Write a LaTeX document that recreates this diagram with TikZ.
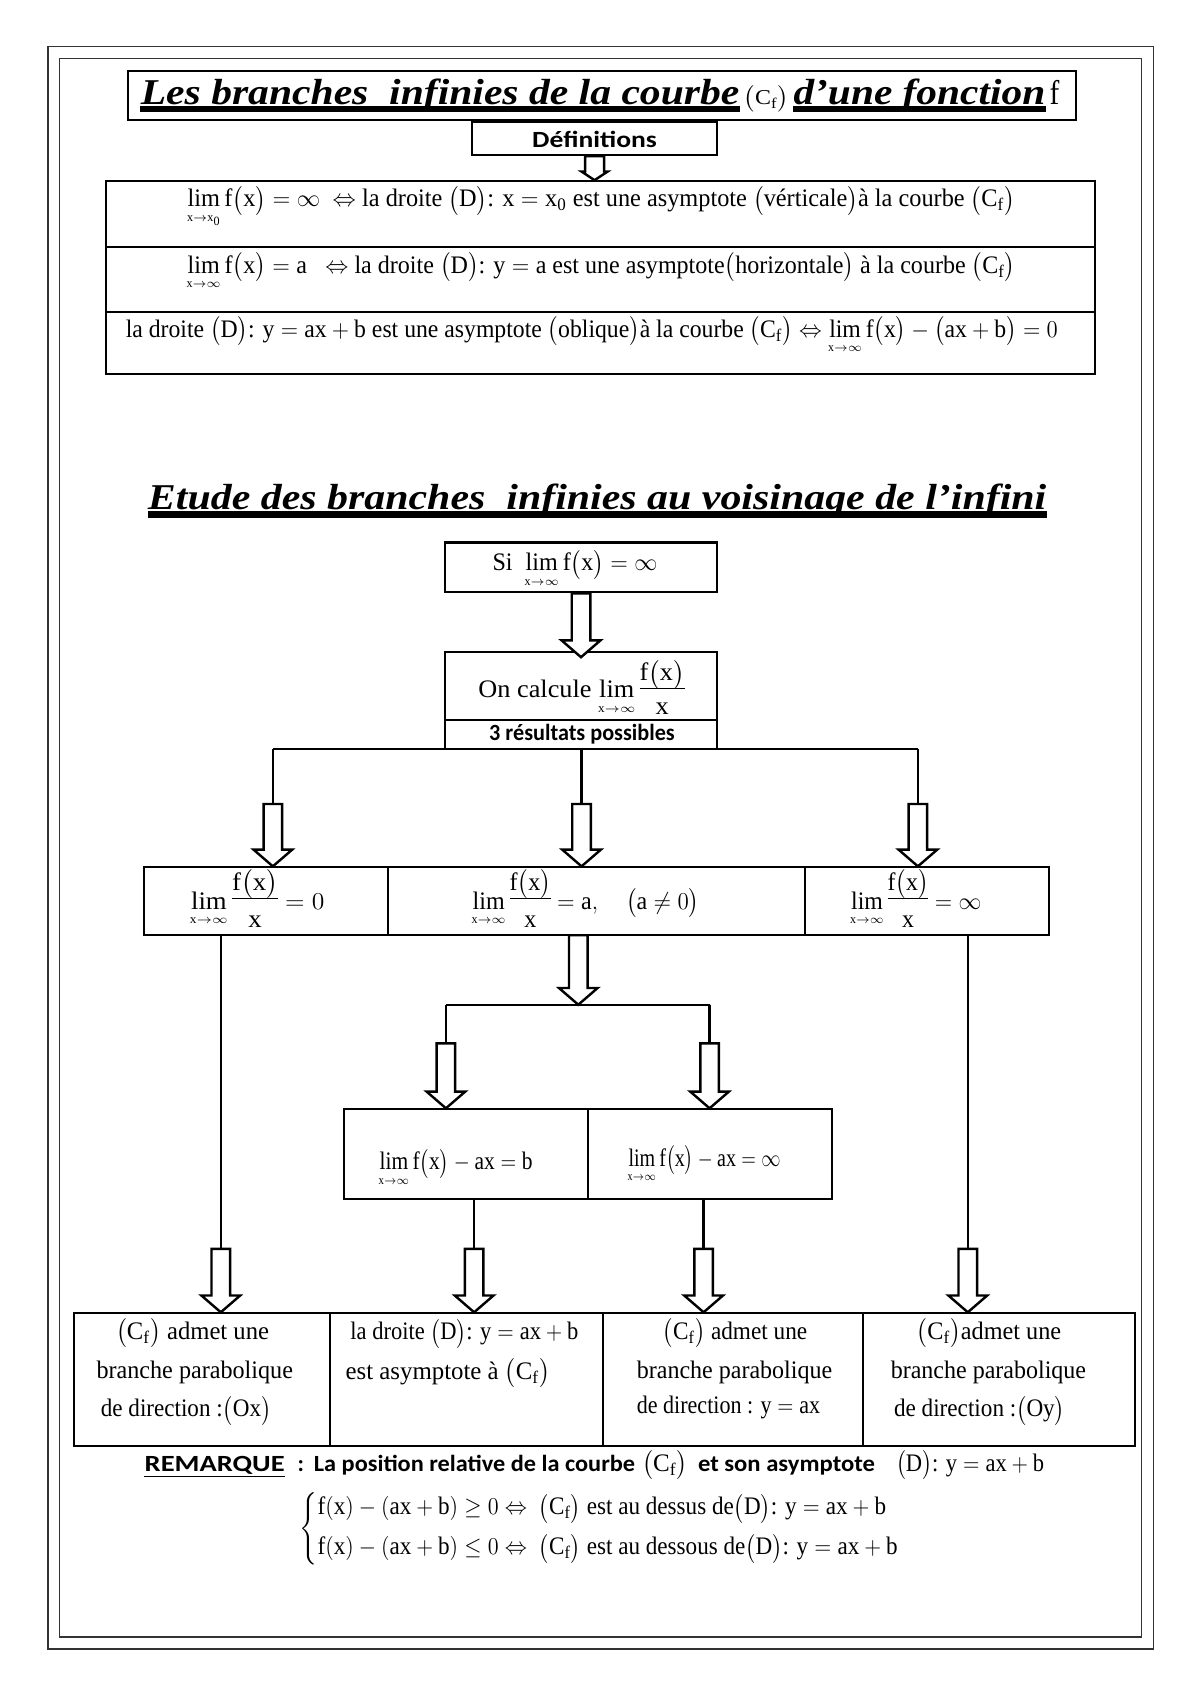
\documentclass[tikz,border=0pt]{standalone}
\usepackage{graphicx}
\usepackage{amsmath}
\usepackage{fontspec}
\setmainfont{Liberation Serif}
\newfontfamily\carl{Carlito}
\usetikzlibrary{calc,fit}
\newlength\pxu \setlength\pxu{0.538pt}
\setlength\arrayrulewidth{0.6pt}
\newcommand\fw[2]{\resizebox{#1\pxu}{\height}{#2}}
\newcommand\LP{\bigl(}
\newcommand\RP{\bigr)}
\newcommand\fx{\mathrm{f}\LP\mathrm{x}\RP}
\newcommand\Cf{\LP\mathrm{C}_{\mathrm{f}}\RP}
\newcommand\Dd{\LP\mathrm{D}\RP}
\newcommand\li[1]{\lim\limits_{\scriptscriptstyle\mathrm{#1}}}
\newcommand\fr[1][12.5pt]{\mathord{\begin{array}{@{}c@{}}\fx\\[-1pt]\hline\rule{0pt}{#1}\mathrm{x}\end{array}}}
\newcommand\blockarrow[5]{\path[arr] let \p1=#1, \p2=#2 in (\x2-#3,\y1) -- (\x2-#3,\y2+#5) -- (\x2-#4,\y2+#5) -- (\x2,\y2) -- (\x2+#4,\y2+#5) -- (\x2+#3,\y2+#5) -- (\x2+#3,\y1) -- cycle;}
\newcommand\bigarrow[2]{\blockarrow{#1}{#2}{4.6pt}{9.6pt}{8.3pt}}
\begin{document}
\begin{tikzpicture}[x=0.538pt,y=-0.538pt,
  box/.style={draw,line width=1pt,inner sep=0pt},
  arr/.style={draw,fill=white,line width=1.2pt,line join=miter},
  conn/.style={draw,line width=1.2pt},
  frame/.style={draw,line width=0.8pt,black!80},
  lbl/.style={anchor=base,inner sep=0pt,font=\fontsize{12.5}{15}\selectfont},
  lblw/.style={anchor=base west,inner sep=0pt,font=\fontsize{12.5}{15}\selectfont},
  ttl/.style={anchor=base west,inner sep=0pt,font=\fontsize{18}{21}\selectfont\bfseries\itshape},
  sb/.style={inner sep=0pt,font=\fontsize{11.5}{13.8}\selectfont\carl\bfseries}]
\fill[white] (0,0) rectangle (1106,1565);
\useasboundingbox (0,0) rectangle (1106,1565);
% page frames
\path[frame] (44,43) rectangle (1063,1520);
\path[frame] (55,54) rectangle (1052,1509);

% ---------- title 1 ----------
\node[box,fit={(118,65)(992,111)}] (title) {};
\node[ttl] (t1a) at (129.4,96.5) {\fw{551.6}{Les branches\ \ infinies de la courbe}};
\fill ([yshift=-0.4pt]t1a.base west) rectangle ([yshift=-3.6pt]t1a.base east);
\node[lblw,font=\fontsize{10.5}{12}\selectfont] (t1b) at (685,96.5) {\fw{42}{$\Cf$}};
\node[ttl] (t1c) at (731,96.5) {\fw{232}{d’une fonction}};
\fill ([yshift=-0.4pt]t1c.base west) rectangle ([yshift=-3.6pt]t1c.base east);
\node[lblw,font=\fontsize{17}{20}\selectfont] (t1d) at (967,96.5) {\fw{9}{f}};

% ---------- definitions ----------
\node[box,fit={(435,112)(661,143)}] (def) {};
\node[sb,anchor=base] (deft) at (548,135.5) {\fw{115}{Définitions}};
\node[box,fit={(97.5,167)(1009,227.5)}] (d1) {};
\node[box,fit={(97.5,227.5)(1009,288)}] (d2) {};
\node[box,fit={(97.5,288)(1009,345)}] (d3) {};
\blockarrow{(def.south)}{(def.south |- d1.north)}{4.7pt}{6.5pt}{4.3pt}
\node[lbl] (dt1) at (554,190.5) {\fw{763}{$\li{x\to x_0}\fx=\infty\ \Leftrightarrow$ la droite $\Dd$: $\mathrm{x=x_0}$ est une asymptote $\LP$vérticale$\RP$à la courbe $\Cf$}};
\node[lbl] (dt2) at (554,252) {\fw{764}{$\li{x\to\infty}\fx=\mathrm{a}\ \ \Leftrightarrow$ la droite $\Dd$: $\mathrm{y=a}$ est une asymptote$\LP$horizontale$\RP$ à la courbe $\Cf$}};
\node[lbl] (dt3) at (545.5,311) {\fw{859}{la droite $\Dd$: $\mathrm{y=ax+b}$ est une asymptote $\LP$oblique$\RP$à la courbe $\Cf\Leftrightarrow\li{x\to\infty}\fx-\LP\mathrm{ax+b}\RP=0$}};

% ---------- title 2 ----------
\node[ttl] (t2) at (136,470) {\fw{828}{Etude des branches\ \ infinies au voisinage de l’infini}};
\fill ([yshift=-0.6pt]t2.base west) rectangle ([yshift=-3.9pt]t2.base east);

% ---------- flow chart ----------
\node[box,fit={(410,500)(661,546)}] (si) {};
\node[lbl] (sit) at (530,526) {\fw{152}{Si\ \ $\li{x\to\infty}\fx=\infty$}};
\node[box,fit={(410,600.5)(661,664)}] (calc) {};
\node[lbl] (calct) at (536,643) {\fw{190}{On calcule $\li{x\to\infty}\fr$}};
\node[box,fit={(410,664)(661,690.5)}] (res) {};
\node[sb,anchor=base] (rest) at (536.4,682.5) {\fw{171}{3 résultats possibles}};
\bigarrow{(si.south)}{([yshift=-3.3pt]calc.north)}

% first row of results
\node[box,fit={(132.4,799.4)(358,862)}] (r1a) {};
\node[box,fit={(358,799.4)(742,862)}] (r1b) {};
\node[box,fit={(742,799.4)(966.5,862)}] (r1c) {};
\node[lbl] (r1at) at (237,838) {\fw{124}{$\li{x\to\infty}\fr[14.5pt]=0$}};
\node[lbl] (r1bt) at (539.7,838) {\fw{210}{$\li{x\to\infty}\fr[14.5pt]=\mathrm{a},\quad\LP\mathrm{a}\neq0\RP$}};
\node[lbl] (r1ct) at (844,838) {\fw{121}{$\li{x\to\infty}\fr[14.5pt]=\infty$}};

\coordinate (j1) at (251.5,690.5);
\coordinate (j2) at (536,690.5);
\coordinate (j3) at (846,690.5);
\coordinate (k1) at (251.5,741);
\coordinate (k2) at (536,741);
\coordinate (k3) at (846,741);
\draw[conn] (j1) -- (j3);
\draw[conn] (j1) -- (k1);
\draw[conn] (j2) -- (k2);
\draw[conn] (j3) -- (k3);
\bigarrow{(k1)}{(k1 |- r1a.north)}
\bigarrow{(k2)}{(k2 |- r1b.north)}
\bigarrow{(k3)}{(k3 |- r1c.north)}

% second level
\coordinate (m0) at (533,862);
\coordinate (m1) at (533,926);
\coordinate (n1) at (411,926);
\coordinate (n2) at (654,926);
\coordinate (o1) at (411,961.6);
\coordinate (o2) at (654,961.6);
\node[box,fit={(317,1022.4)(542,1105)}] (r2a) {};
\node[box,fit={(542,1022.4)(767,1105)}] (r2b) {};
\draw[conn] (n1) -- (n2);
\draw[conn] (n1) -- (o1);
\draw[conn] (n2) -- (o2);
\bigarrow{(m0)}{(m1)}
\bigarrow{(o1)}{(o1 |- r2a.north)}
\bigarrow{(o2)}{(o2 |- r2b.north)}
\node[lbl] (r2at) at (420,1078) {\fw{142}{$\li{x\to\infty}\fx-\mathrm{ax}=\mathrm{b}$}};
\node[lbl] (r2bt) at (649,1075) {\fw{141}{$\li{x\to\infty}\fx-\mathrm{ax}=\infty$}};

% third level
\node[box,fit={(68.3,1210.4)(304,1333)}] (r3a) {};
\node[box,fit={(304,1210.4)(555.8,1333)}] (r3b) {};
\node[box,fit={(555.8,1210.4)(795,1333)}] (r3c) {};
\node[box,fit={(795,1210.4)(1046,1333)}] (r3d) {};
\coordinate (p1) at (203.5,862);
\coordinate (q1) at (203.5,1151);
\coordinate (p2) at (437,1105);
\coordinate (q2) at (437,1151);
\coordinate (p3) at (648.5,1105);
\coordinate (q3) at (648.5,1151);
\coordinate (p4) at (892,862);
\coordinate (q4) at (892,1151);
\draw[conn] (p1) -- (q1);
\draw[conn] (p2) -- (q2);
\draw[conn] (p3) -- (q3);
\draw[conn] (p4) -- (q4);
\bigarrow{(q1)}{(q1 |- r3a.north)}
\bigarrow{(q2)}{(q2 |- r3b.north)}
\bigarrow{(q3)}{(q3 |- r3c.north)}
\bigarrow{(q4)}{(q4 |- r3d.north)}

\node[lbl] (a1) at (177.5,1234.4) {\fw{141}{$\Cf$ admet une}};
\node[lbl] (a2) at (179.5,1270.3) {\fw{181}{branche parabolique}};
\node[lbl] (a3) at (171.5,1305.7) {\fw{157}{de direction :$\LP\mathrm{Ox}\RP$}};
\node[lbl] (b1) at (428,1235) {\fw{210}{la droite $\Dd$: $\mathrm{y=ax+b}$}};
\node[lbl] (b2) at (412.8,1271) {\fw{188.5}{est asymptote à $\Cf$}};
\node[lbl] (c1) at (677.5,1234.4) {\fw{133}{$\Cf$ admet une}};
\node[lbl] (c2) at (677,1270.3) {\fw{180}{branche parabolique}};
\node[lbl] (c3) at (671.5,1302.6) {\fw{169}{de direction : $\mathrm{y=ax}$}};
\node[lbl] (e1) at (911.5,1234.4) {\fw{133}{$\Cf$admet une}};
\node[lbl] (e2) at (911,1270.3) {\fw{180}{branche parabolique}};
\node[lbl] (e3) at (902.8,1305.7) {\fw{157.6}{de direction :$\LP\mathrm{Oy}\RP$}};

% ---------- remark ----------
\node[sb,anchor=base west] (rem) at (133,1356) {\fw{129}{REMARQUE}};
\draw[line width=0.9pt] ([yshift=-2.6pt]rem.base west) -- ([yshift=-2.6pt]rem.base east);
\node[sb,anchor=base west] (rem2) at (274,1356) {:};
\node[sb,anchor=base west] (rem3) at (289,1356) {\fw{296}{La position relative de la courbe}};
\node[lblw] (rem4) at (591.5,1356) {\fw{42}{$\Cf$}};
\node[sb,anchor=base west] (rem5) at (643,1356) {\fw{163}{et son asymptote}};
\node[lblw] (rem6) at (825.5,1356) {\fw{136.5}{$\Dd$: $\mathrm{y=ax+b}$}};
\node[anchor=west,inner sep=0pt,font=\fontsize{12.5}{15}\selectfont] (sys) at (276,1409) {\fw{553}{$\left\{\begin{array}{@{}l@{}}
\mathrm{f(x)-(ax+b)}\geq0\Leftrightarrow\ \Cf\ \text{est au dessus de}\Dd\text{: }\mathrm{y=ax+b}\\[4.9pt]
\mathrm{f(x)-(ax+b)}\leq0\Leftrightarrow\ \Cf\ \text{est au dessous de}\Dd\text{: }\mathrm{y=ax+b}
\end{array}\right.$}};
\end{tikzpicture}
\end{document}
